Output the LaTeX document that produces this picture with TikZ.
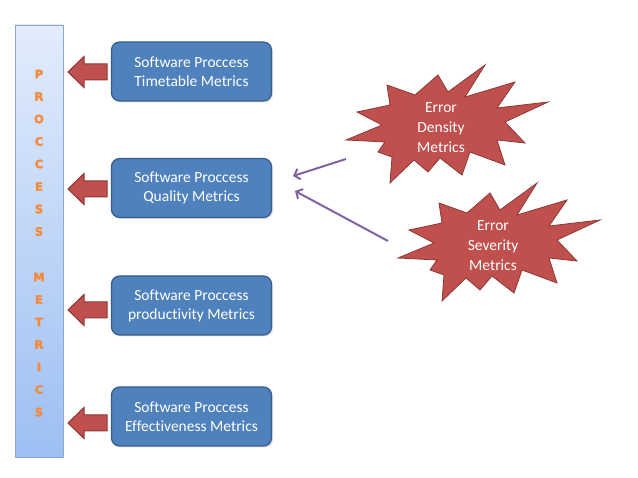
\documentclass[tikz,border=0pt]{standalone}
\usepackage{fontspec}
\setmainfont{Carlito}[Ligatures=NoCommon]
\newfontfamily\letterfont[BoldFont={DejaVu Sans Bold}, BoldFeatures={FakeBold=3}]{DejaVu Sans}
\usetikzlibrary{arrows.meta,shadows}
\definecolor{boxblue}{HTML}{4F81BD}
\definecolor{boxedge}{HTML}{385D8A}
\definecolor{redfill}{HTML}{C0504D}
\definecolor{rededge}{HTML}{8C3836}
\definecolor{purp}{HTML}{8064A2}
\definecolor{orng}{HTML}{F58A3C}
\definecolor{bartop}{HTML}{E2ECFC}
\definecolor{barbot}{HTML}{9DBFF3}
\definecolor{baredge}{HTML}{8FA8D0}
\begin{document}
\begin{tikzpicture}[x=1pt,y=-1pt,
  metricbox/.style={draw=boxedge, line width=1.2pt, fill=boxblue, rounded corners=8pt,
    minimum width=160pt, minimum height=59pt, text=white, inner sep=0pt,
    font=\fontsize{15.5}{19}\selectfont, align=center,
    drop shadow={shadow xshift=1.5pt, shadow yshift=-1.5pt, opacity=0.25, fill=gray}},
  redarrow/.style={draw=rededge, line width=1pt, fill=redfill},
  burst/.style={draw=rededge, line width=0.8pt, fill=redfill},
  startext/.style={text=white, font=\fontsize{15.5}{20}\selectfont, align=center, inner sep=0pt},
  letter/.style={text=orng, font=\letterfont\bfseries\fontsize{11.5}{11.5}\selectfont, inner sep=0pt},
  link/.style={draw=purp, line width=2pt, -{Straight Barb[length=5pt,width=11pt,line width=2pt]}},
  pics/leftarrow/.style={code={
    \draw[redarrow] (0,0) -- (16,-15.5) -- (16,-8) -- (39,-8) -- (39,8) -- (16,8) -- (16,15.5) -- cycle;}},
  pics/starburst/.style={code={
    \draw[burst] (40,-60) -- (20,-28) -- (70,-43) -- (52,-17) -- (103,-23) -- (60,-3)
      -- (80,18) -- (52,15) -- (60,40) -- (25,27) -- (17,50) -- (-5,33) -- (-17,47)
      -- (-31,35) -- (-55,58) -- (-53,32) -- (-67,27) -- (-60,17) -- (-99,15) -- (-63,0)
      -- (-88,-13) -- (-55,-20) -- (-58,-40) -- (-30,-30) -- (-7,-50) -- (3,-33) -- cycle;}}
]
\useasboundingbox (0,0) rectangle (638,478);
\fill[white] (0,0) rectangle (638,478);

% vertical bar
\node[draw=baredge, line width=0.8pt, top color=bartop, bottom color=barbot,
  minimum width=48pt, minimum height=432pt, inner sep=0pt] (bar) at (39,241) {};
\foreach \l/\y [count=\i] in {P/74,R/96.5,O/119,C/141.5,C/164,E/186.5,S/209,S/231.5,
  M/277,E/299.5,T/322,R/344.5,I/367,C/389.5,S/412}
  \node[letter] (L\i) at (39,\y) {\l};

% boxes
\node[metricbox] (b1) at (191.5,71.5) {Software Proccess\\Timetable Metrics};
\node[metricbox] (b2) at (191.5,188) {Software Proccess\\Quality Metrics};
\node[metricbox] (b3) at (191.5,305.5) {Software Proccess\\productivity Metrics};
\node[metricbox] (b4) at (191.5,416.5) {Software Proccess\\Effectiveness Metrics};

% red block arrows
\pic at (68,72) {leftarrow};
\pic at (68,189) {leftarrow};
\pic at (68,310) {leftarrow};
\pic at (68,423) {leftarrow};

% stars
\pic at (445,125) {starburst};
\pic at (497,243) {starburst};
\node[startext] (s1) at (441,128) {Error\\Density\\Metrics};
\node[startext] (s2) at (493,246) {Error\\Severity\\Metrics};

% purple connectors
\coordinate (a1s) at (346,159);
\coordinate (a1e) at (293,176);
\coordinate (a2s) at (388,241);
\coordinate (a2e) at (295,191);
\draw[link] (a1s) -- (a1e);
\draw[link] (a2s) -- (a2e);
\end{tikzpicture}
\end{document}
